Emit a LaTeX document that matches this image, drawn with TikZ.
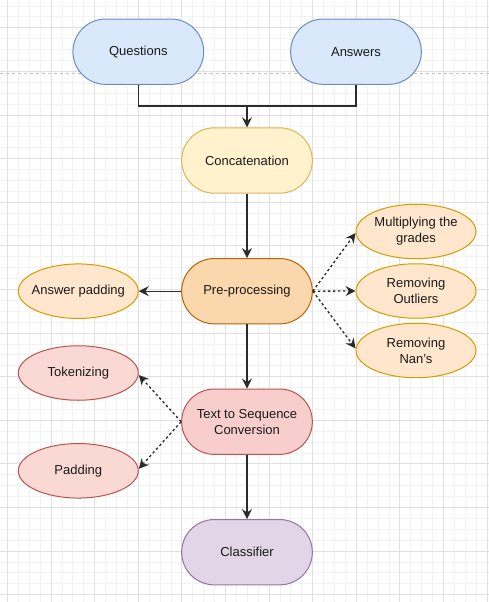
\documentclass[tikz,border=0pt]{standalone}
\usepackage{fontspec}
\setmainfont{Liberation Sans}
\usetikzlibrary{shapes.geometric,arrows.meta}
\definecolor{gridmajor}{HTML}{E0E0E0}
\definecolor{gridminor}{HTML}{F2F2F2}
\definecolor{pagebreak}{HTML}{C4C4C4}
\definecolor{bluefill}{HTML}{DAE8FC}
\definecolor{bluedraw}{HTML}{6C8EBF}
\definecolor{yelfill}{HTML}{FFF2CC}
\definecolor{yeldraw}{HTML}{D6B656}
\definecolor{orafill}{HTML}{FAD7AC}
\definecolor{oradraw}{HTML}{B46504}
\definecolor{oraefill}{HTML}{FFE6CC}
\definecolor{oraedraw}{HTML}{D79B00}
\definecolor{redfill}{HTML}{F8CECC}
\definecolor{reddraw}{HTML}{B85450}
\definecolor{redefill}{HTML}{FAD9D5}
\definecolor{purfill}{HTML}{E1D5E7}
\definecolor{purdraw}{HTML}{9673A6}
\definecolor{txt}{HTML}{1A1A1A}
\definecolor{edge}{HTML}{2B2B2B}
\tikzset{
  pill/.style={draw, line width=1pt, rounded corners=32.6pt, minimum width=130.7pt,
    minimum height=65.3pt, inner sep=0pt, align=center, text=txt,
    font=\fontsize{13}{16}\selectfont},
  oval/.style={draw, ellipse, line width=1pt, minimum width=120pt, minimum height=54.5pt,
    inner sep=0pt},
  ovaltext/.style={inner sep=0pt, align=center, text=txt, font=\fontsize{13}{16}\selectfont},
  tip/.style={-{Stealth[length=10pt,width=10pt,inset=3.5pt]}},
  solidarrow/.style={draw=edge, line width=1.3pt, tip},
  solidline/.style={draw=edge, line width=1.3pt},
  dotarrow/.style={draw=edge, line width=1.3pt, dash pattern=on 2.5pt off 2.5pt, tip},
}
\newcommand{\ovalnode}[6]{%
  \node[oval, fill=#3, draw=#4] (#1) at (#2) {};
  \node[ovaltext] (#1-t) at (#1) {#5};}
\begin{document}
\begin{tikzpicture}[x=1pt,y=-1pt]
\useasboundingbox (0,0) rectangle (489,602);
\fill[white] (0,0) rectangle (489,602);
% grid
\foreach \i in {-1,...,45} {
  \draw[gridminor, line width=0.6pt] ({7.3+10.9*\i},0) -- ({7.3+10.9*\i},602);
}
\foreach \i in {-3,...,55} {
  \draw[gridminor, line width=0.6pt] (0,{27.7+10.9*\i}) -- (489,{27.7+10.9*\i});
}
\foreach \i in {0,...,11} {
  \draw[gridmajor, line width=0.8pt] ({7.3+43.6*\i},0) -- ({7.3+43.6*\i},602);
}
\foreach \i in {0,...,13} {
  \draw[gridmajor, line width=0.8pt] (0,{27.7+43.6*\i}) -- (489,{27.7+43.6*\i});
}
\draw[pagebreak, line width=1.3pt, dash pattern=on 3pt off 3pt] (0,73.3) -- (489,73.3);

% nodes
\node[pill, fill=bluefill, draw=bluedraw] (q) at (138.3,51.7) {Questions};
\node[pill, fill=bluefill, draw=bluedraw] (a) at (356,51.7) {Answers};
\node[pill, fill=yelfill, draw=yeldraw] (conc) at (247,160.5) {Concatenation};
\node[pill, fill=orafill, draw=oradraw] (pp) at (247,291.2) {Pre-processing};
\ovalnode{ap}{78.3,291.2}{oraefill}{oraedraw}{Answer padding}{}
\ovalnode{mg}{416,231.5}{oraefill}{oraedraw}{Multiplying the\\grades}{}
\ovalnode{ro}{416,291}{oraefill}{oraedraw}{Removing\\Outliers}{}
\ovalnode{rn}{416,350.5}{oraefill}{oraedraw}{Removing\\Nan’s}{}
\node[pill, fill=redfill, draw=reddraw] (ts) at (247,421.7) {Text to Sequence\\Conversion};
\ovalnode{tok}{78.3,373}{redefill}{reddraw}{Tokenizing}{}
\ovalnode{pad}{78.3,470.8}{redefill}{reddraw}{Padding}{}
\node[pill, fill=purfill, draw=purdraw] (cl) at (247,552.2) {Classifier};

% connectors
\coordinate (j) at (247,106);
\draw[solidline] (q.south) |- (j);
\draw[solidline] (a.south) |- (j);
\draw[solidarrow] (j) -- (conc.north);
\draw[solidarrow] (conc.south) -- (pp.north);
\draw[solidarrow] (pp.west) -- (ap.east);
\draw[dotarrow] (pp.east) -- ([yshift=-1.5pt]mg.west);
\draw[dotarrow] (pp.east) -- (ro.west);
\draw[dotarrow] (pp.east) -- ([yshift=2pt]rn.west);
\draw[solidarrow] (pp.south) -- (ts.north);
\draw[dotarrow] (ts.west) -- ([yshift=-2pt]tok.east);
\draw[dotarrow] (ts.west) -- ([yshift=2pt]pad.east);
\draw[solidarrow] (ts.south) -- (cl.north);
\end{tikzpicture}
\end{document}
